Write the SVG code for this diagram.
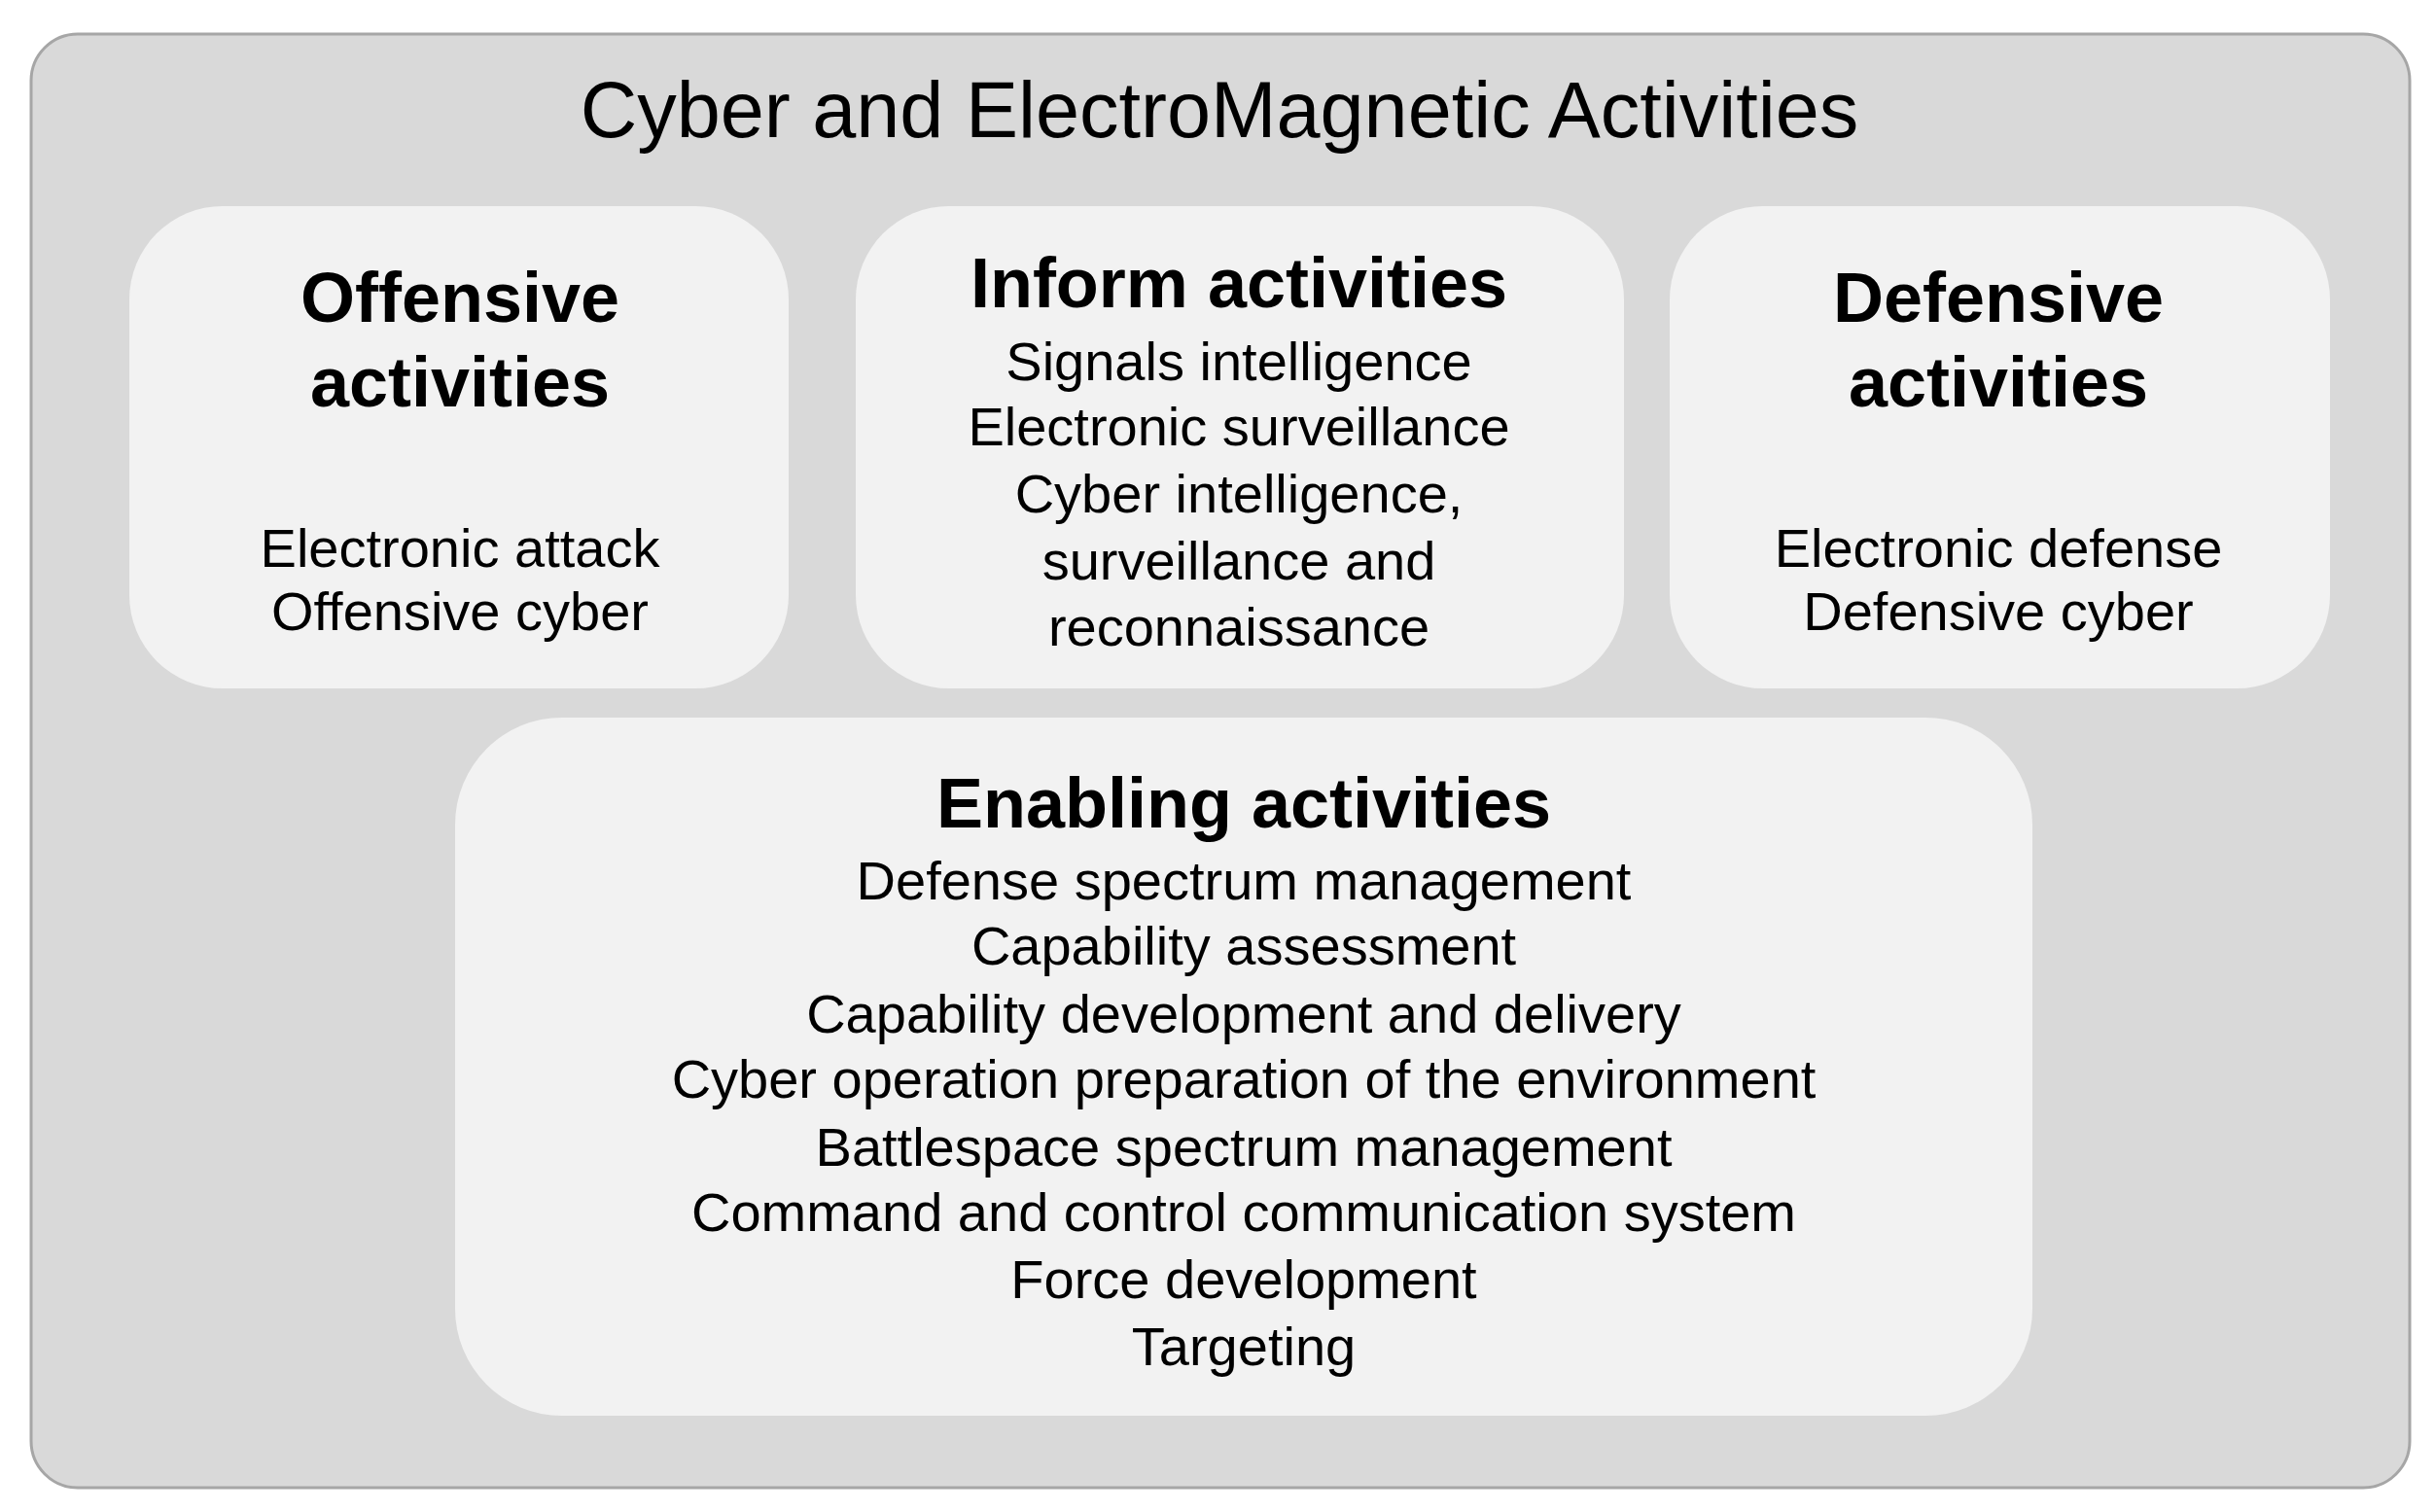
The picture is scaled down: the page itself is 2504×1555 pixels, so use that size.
<svg xmlns="http://www.w3.org/2000/svg" width="2504" height="1555" viewBox="0 0 2504 1555">
<style>
text{font-family:"Liberation Sans",Arial,sans-serif;fill:#000;text-anchor:middle}
.h{font-weight:bold;font-size:72px}
.b{font-size:56px}
.box{fill:#f2f2f2}
</style>
<rect width="2504" height="1555" fill="#fff"/>
<g id="outer">
<rect x="32" y="35" width="2446" height="1495" rx="48" fill="#d9d9d9" stroke="#a6a6a6" stroke-width="3"/>
<text x="1254" y="141" style="font-size:81px">Cyber and ElectroMagnetic Activities</text>
</g>
<g id="offensive">
<rect class="box" x="133" y="212" width="678" height="496" rx="96"/>
<text class="h" x="473" y="331">Offensive</text>
<text class="h" x="473" y="418">activities</text>
<text class="b" x="473" y="583">Electronic attack</text>
<text class="b" x="473" y="648">Offensive cyber</text>
</g>
<g id="inform">
<rect class="box" x="880" y="212" width="790" height="496" rx="96"/>
<text class="h" x="1274" y="316">Inform activities</text>
<text class="b" x="1274" y="391">Signals intelligence</text>
<text class="b" x="1274" y="458">Electronic surveillance</text>
<text class="b" x="1274" y="527">Cyber intelligence,</text>
<text class="b" x="1274" y="596">surveillance and</text>
<text class="b" x="1274" y="664">reconnaissance</text>
</g>
<g id="defensive">
<rect class="box" x="1717" y="212" width="679" height="496" rx="96"/>
<text class="h" x="2055" y="331">Defensive</text>
<text class="h" x="2055" y="418">activities</text>
<text class="b" x="2055" y="583">Electronic defense</text>
<text class="b" x="2055" y="648">Defensive cyber</text>
</g>
<g id="enabling">
<rect class="box" x="468" y="738" width="1622" height="718" rx="110"/>
<text class="h" x="1279" y="851">Enabling activities</text>
<text class="b" x="1279" y="925">Defense spectrum management</text>
<text class="b" x="1279" y="992">Capability assessment</text>
<text class="b" x="1279" y="1062">Capability development and delivery</text>
<text class="b" x="1279" y="1129">Cyber operation preparation of the environment</text>
<text class="b" x="1279" y="1199">Battlespace spectrum management</text>
<text class="b" x="1279" y="1266">Command and control communication system</text>
<text class="b" x="1279" y="1335">Force development</text>
<text class="b" x="1279" y="1404">Targeting</text>
</g>
<g id="connectors"/>
</svg>
